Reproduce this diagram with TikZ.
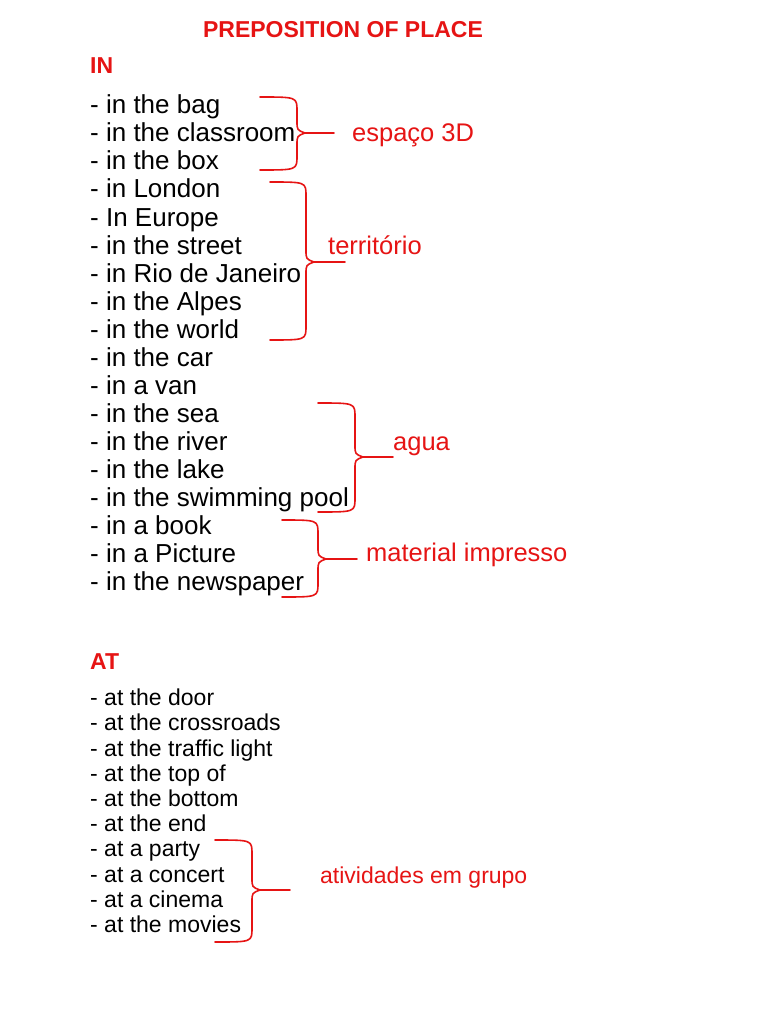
\documentclass[tikz,border=0pt]{standalone}
\usepackage{fontspec}
\setmainfont{Liberation Sans}
\definecolor{rd}{RGB}{230,20,20}
\newcommand\mybrace[6]{% x0 ytop ybot xb ymid xtip
\draw[br] (#1,#2) .. controls (#4,#2) and (#4,#2) .. (#4,#2+14) -- (#4,#5-12) .. controls (#4,#5-3) .. (#4+8,#5) -- (#6,#5);
\draw[br] (#4+8,#5) .. controls (#4,#5+3) .. (#4,#5+12) -- (#4,#3-14) .. controls (#4,#3) and (#4,#3) .. (#1,#3);}
\begin{document}
\begin{tikzpicture}[x=1pt,y=-1pt,
 item/.style={anchor=base west,inner sep=0pt,font=\fontsize{26}{28}\selectfont},
 aitem/.style={anchor=base west,inner sep=0pt,font=\fontsize{23}{25}\selectfont},
 head/.style={anchor=base west,inner sep=0pt,text=rd,font=\fontsize{23}{26}\selectfont\bfseries},
 lab/.style={anchor=base west,inner sep=0pt,text=rd,font=\fontsize{25.5}{28}\selectfont},
 br/.style={draw=rd,line width=1.6pt,line cap=round,line join=round}]
\useasboundingbox[fill=white] (0,0) rectangle (768,1024);
\node[head,anchor=base] (title) at (343,38) {PREPOSITION OF PLACE};
\node[head] (in) at (90,74) {IN};
\node[head] (at) at (90,669) {AT};
\foreach \t [count=\i] in {- in the bag,- in the classroom,- in the box,- in London,- In Europe,- in the street,- in Rio de Janeiro,- in the Alpes,- in the world,- in the car,- in a van,- in the sea,- in the river,- in the lake,- in the swimming pool,- in a book,- in a Picture,- in the newspaper}
  \node[item] (i\i) at (90,{86+28*\i}) {\t};
\foreach \t [count=\i] in {- at the door,- at the crossroads,- at the traffic light,- at the top of,- at the bottom,- at the end,- at a party,- at a concert,- at a cinema,- at the movies}
  \node[aitem] (a\i) at (90,{680.5+25.2*\i}) {\t};
\mybrace{260}{97}{170}{297}{133}{334}
\node[lab] (l1) at (352,142) {espaço 3D};
\mybrace{270}{182}{340}{306}{262}{345}
\node[lab] (l2) at (328,254) {território};
\mybrace{318}{403}{512}{355}{457}{393}
\node[lab] (l3) at (393,450) {agua};
\mybrace{282}{520}{597}{318}{559}{357}
\node[lab] (l4) at (366,561) {material impresso};
\mybrace{215}{840}{942}{252}{890}{290}
\node[lab,font=\fontsize{23}{25}\selectfont] (l5) at (320,883) {atividades em grupo};
\end{tikzpicture}
\end{document}
